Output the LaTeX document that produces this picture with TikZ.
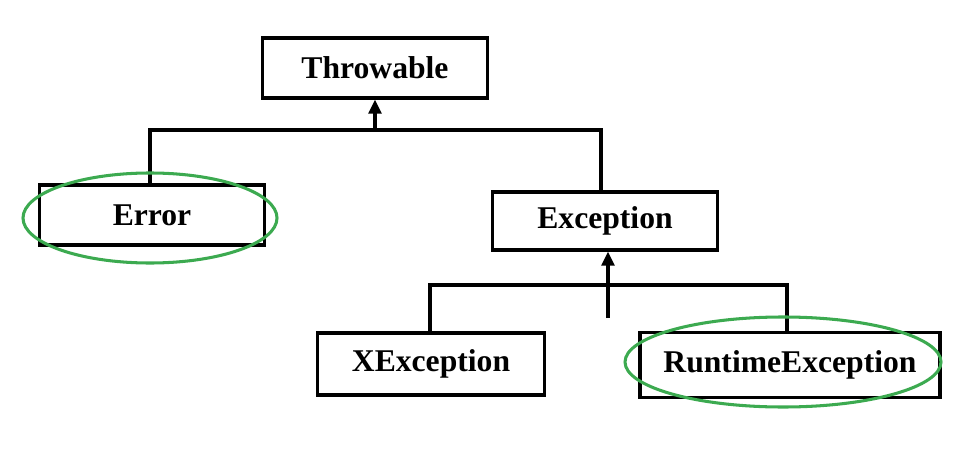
\documentclass[tikz,border=0pt]{standalone}
\usepackage{fontspec}
\setmainfont{Liberation Serif}
\usetikzlibrary{arrows.meta}
\begin{document}
\begin{tikzpicture}[x=0.03cm,y=-0.03cm,
 box/.style={draw,line width=2.8pt,inner sep=0pt,font=\fontsize{27}{30}\selectfont\bfseries},
 ln/.style={line width=2.6pt},
 arr/.style={ln,-{Triangle[length=12pt,width=11pt]}},
 ell/.style={draw={rgb,255:red,60;green,170;blue,80},line width=2.6pt}]
\useasboundingbox (0,0) rectangle (965,457);
\node[box,minimum width=225*0.03cm,minimum height=60*0.03cm] (thr) at (375,68) {Throwable};
\node[box,minimum width=225*0.03cm,minimum height=60*0.03cm] (err) at (152,215) {Error};
\node[box,minimum width=225*0.03cm,minimum height=58*0.03cm] (exc) at (605,221) {Exception};
\node[box,minimum width=227*0.03cm,minimum height=62*0.03cm] (xex) at (431,364) {XException};
\node[box,minimum width=300*0.03cm,minimum height=65*0.03cm] (rex) at (790,365) {RuntimeException};
\coordinate (j1) at (375,130);
\coordinate (j2) at (608,318);
\draw[arr] (j1) -- (thr.south);
\draw[ln] (err.north -| 150,0) |- (j1) -| (exc.north -| 601,0);
\draw[arr] (j2) -- (exc.south -| j2);
\draw[ln] (xex.north -| 430,0) |- (608,285) -| (rex.north -| 787,0);
\draw[ell] (150,218) ellipse [x radius=127,y radius=45];
\draw[ell] (783,362) ellipse [x radius=158,y radius=45];
\end{tikzpicture}
\end{document}
